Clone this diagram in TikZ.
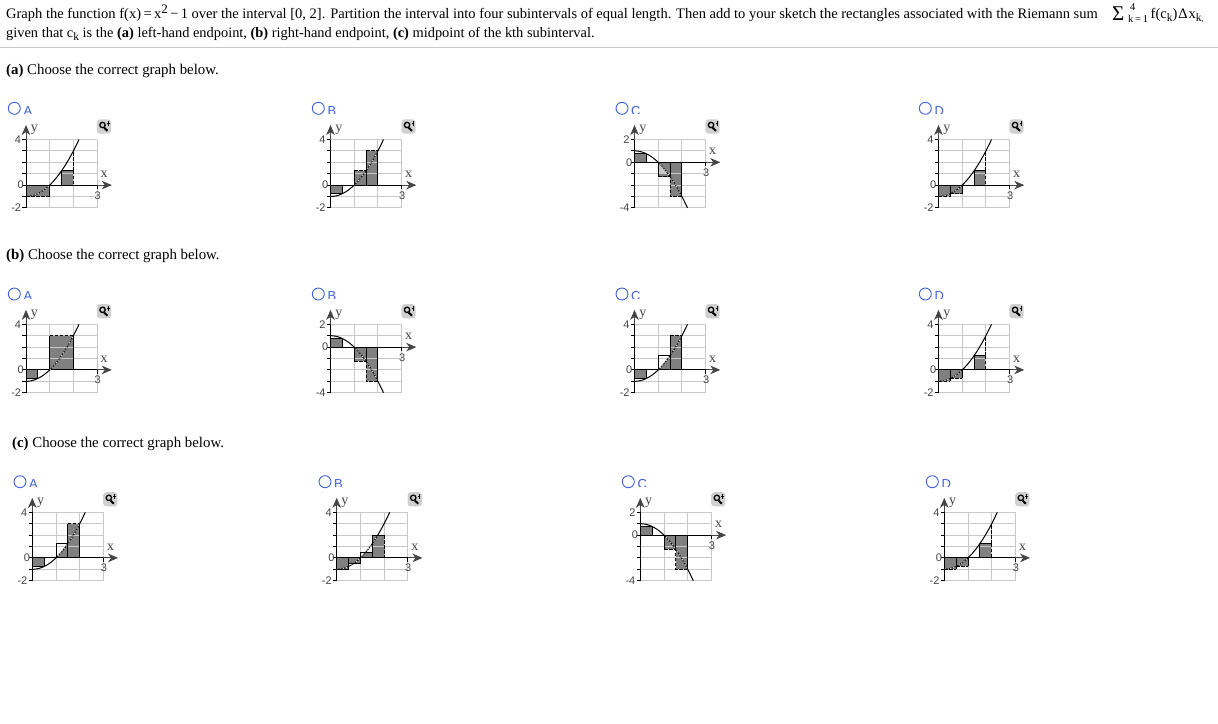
\documentclass[tikz,border=0pt]{standalone}
\usepackage{fontspec}
\setmainfont{Liberation Serif}
\setsansfont{Liberation Sans}
\usetikzlibrary{arrows.meta}
\definecolor{gridc}{HTML}{C8C8C8}
\definecolor{rectc}{HTML}{808080}
\definecolor{axisc}{HTML}{444444}
\definecolor{radioc}{HTML}{3F62D8}
\definecolor{iconc}{HTML}{D0D0D0}
\tikzset{
  txt/.style={inner sep=0pt,anchor=base west,font=\fontsize{14.5}{16}\selectfont},
  ticklab/.style={inner sep=0pt,anchor=east,text=axisc,font=\sffamily\fontsize{11}{11}\selectfont},
  axlab/.style={inner sep=0pt,text=axisc,font=\fontsize{14}{14}\selectfont},
  gridline/.style={gridc,line width=.9pt},
  axisline/.style={black,line width=1pt},
  arrowline/.style={axisc,line width=1pt,-{Stealth[length=10pt,width=8.5pt,inset=3pt]}},
  curveline/.style={black,line width=1pt},
  borderline/.style={black,line width=1pt},
  dashline/.style={black,line width=1pt,dash pattern=on 3.5pt off 1.5pt},
  radio/.style={radioc,line width=.9pt},
  radiolab/.style={inner sep=0pt,anchor=base west,text=radioc,font=\sffamily\fontsize{13}{14}\selectfont},
}
\newcommand{\kk}{\raisebox{-3.5pt}{\fontsize{11.5}{12}\selectfont k}}
% fills
\newcommand{\rf}[3]{\fill[rectc] (#1,0) rectangle (#2,#3);}
\newcommand{\wu}[3]{\fill[white] (#1,0) -- plot[smooth,domain=#1:#2,samples=8] (\x,\x*\x-1) -- (#1,#3) -- cycle;}
% borders
\newcommand{\rkA}[3]{\draw[borderline] (#1,#3) -- (#1,0) (#2,#3) -- (#2,0); \draw[dashline] (#1,#3) -- (#2,#3);}
\newcommand{\rkB}[3]{\draw[borderline] (#1,0) -- (#1,#3) -- (#2,#3); \draw[dashline] (#2,#3) -- (#2,0);}
\newcommand{\rkC}[3]{\draw[borderline] (#2,0) -- (#2,#3); \draw[dashline] (#2,#3) -- (#1,#3) -- (#1,0);}
\newcommand{\rkD}[3]{\draw[borderline] (#1,0) -- (#1,#3) (#2,#3) -- (#2,0); \draw[borderline] (#1,#3) -- (#2,#3);}
\newcommand{\dv}[3]{\draw[dashline] (#1,#2) -- (#1,#3);}
% #1 x0, #2 top px, #3 ymax, #4 sign, #5 fill code, #6 clip path of the rectangles, #7 border code, #8 name
\newcommand{\mygraph}[8]{%
\begin{scope}[shift={(#1,#2+#3*11.4)},x=23.7pt,y=11.4pt]
  \pgfmathsetmacro{\ymn}{#3-6}
  #5
  \foreach \gx in {1,2,3} \draw[gridline] (\gx,\ymn) -- (\gx,#3);
  \foreach \gy in {\ymn,...,#3} \draw[gridline] (0,\gy) -- (3,\gy);
  \foreach \gy in {\ymn,...,#3} \draw[axisline] (-.15,\gy) -- (0,\gy);
  \draw[axisline] (0,\ymn) -- (0,#3);
  \draw[axisline] (0,0) -- (3,0);
  \draw[axisline] (3,0) -- (3,-.35);
  \draw[arrowline] (0,#3) -- (0,#3+1.27);
  \draw[arrowline] (3,0) -- (3.62,0);
  \draw[curveline] plot[smooth,domain=0:2.236,samples=40] (\x,{#4*(\x*\x-1)});
  \begin{scope}
    \clip #6;
    \draw[white,line width=.6pt,dash pattern=on 1.5pt off 1.5pt] plot[smooth,domain=0:2.236,samples=40] (\x,{#4*(\x*\x-1)});
  \end{scope}
  #7
  \node[ticklab] (#8t) at (-.2,#3) {#3};
  \node[ticklab] (#8z) at (-.09,0) {0};
  \node[ticklab] (#8b) at (-.2,\ymn) {-\pgfmathparse{int(abs(\ymn))}\pgfmathresult};
  \node[ticklab,anchor=center] (#8n) at (3.02,-.9) {3};
  \node[axlab] (#8x) at (3.3,.95) {x};
  \node[axlab] (#8y) at (.35,#3+.85) {y};
  % zoom icon
  \fill[iconc,rounded corners=3pt] (3.29-.3,#3+1.14-.62) rectangle (3.29+.3,#3+1.14+.62);
  \draw[black,line width=1.3pt] (3.23,#3+1.27) circle (2.7pt);
  \draw[black,line width=2pt] (3.30,#3+1.02) -- (3.44,#3+.76);
  \draw[black,line width=.5pt] (3.42,#3+1.40) -- (3.53,#3+1.40) (3.475,#3+1.18) -- (3.475,#3+1.62);
\end{scope}}
\newcommand{\myopt}[4]{% cx cy letter name
  \draw[radio] (#1,#2) circle (6pt);
  \begin{scope}
    \clip (#1+8,#2-6) rectangle (#1+20,#2+4.8);
    \node[radiolab] (#4) at (#1+9,#2+6.8) {#3};
  \end{scope}}
% kinds of rectangle sets
\newcommand{\kindL}[3]{% (a)A
  \mygraph{#1}{#2}{4}{1}{\rf{0}{1}{-1}\rf{1.5}{2}{1.25}}{(0,0) rectangle (1,-1) (1.5,0) rectangle (2,1.25)}{\rkA{0}{1}{-1}\draw[borderline] (1,0)--(1,-1);\rkB{1.5}{2}{1.25}\dv{2}{1.25}{3}}{#3}}
\newcommand{\kindR}[3]{% full gray right endpoint
  \mygraph{#1}{#2}{4}{1}{\rf{0}{.5}{-.75}\rf{1}{1.5}{1.25}\rf{1.5}{2}{3}}{(0,0) rectangle (.5,-.75) (1,0) rectangle (2,3) }{\rkD{0}{.5}{-.75}\rkA{1}{1.5}{1.25}\rkA{1.5}{2}{3}}{#3}}
\newcommand{\kindW}[3]{% white wedge right endpoint
  \mygraph{#1}{#2}{4}{1}{\rf{0}{.5}{-.75}\rf{1}{1.5}{1.25}\wu{1}{1.5}{1.25}\rf{1.5}{2}{3}}{(0,0) rectangle (.5,-.75) (1,0) rectangle (2,3)}{\rkD{0}{.5}{-.75}\rkD{1}{1.5}{1.25}\rkA{1.5}{2}{3}}{#3}}
\newcommand{\kindD}[3]{% left endpoint with two negative rectangles
  \mygraph{#1}{#2}{4}{1}{\rf{0}{.5}{-1}\rf{.5}{1}{-.75}\rf{1.5}{2}{1.25}}{(0,0) rectangle (1,-1) (1.5,0) rectangle (2,1.25)}{\rkA{0}{.5}{-1}\rkA{.5}{1}{-.75}\rkB{1.5}{2}{1.25}\dv{2}{1.25}{3}}{#3}}
\newcommand{\kindN}[4]{% negated; #4 extra fill
  \mygraph{#1}{#2}{2}{-1}{\rf{0}{.5}{.75}\rf{1}{1.5}{-1.25}\rf{1.5}{2}{-3}#4}{(0,0) rectangle (.5,.75) (1,0) rectangle (2,-3)}{\rkD{0}{.5}{.75}\rkA{1}{1.5}{-1.25}\rkC{1.5}{2}{-3}}{#3}}
\begin{document}
\begin{tikzpicture}[x=1pt,y=-1pt]
\useasboundingbox (0,0) rectangle (1218,723);
\fill[white] (0,0) rectangle (1218,723);
\node[txt] (line1) at (6,18) {Graph the function f(x)\,=\,x\raisebox{5pt}{\fontsize{13}{13}\selectfont 2}\,−\,1 over the interval [0, 2]. Partition the interval into four subintervals of equal length. Then add to your sketch the rectangles associated with the Riemann sum};
\node[txt,font=\fontsize{21}{21}\selectfont] (sigma) at (1112,20) {Σ};
\node[txt,font=\fontsize{10.5}{11}\selectfont] (sumtop) at (1130,10) {4};
\node[txt,font=\fontsize{10.5}{11}\selectfont] (sumbot) at (1128,22.5) {k\,=\,1};
\node[txt] (sumterm) at (1150.5,18) {f(c\kk)\kern1ptΔ\kern1ptx\kk\raisebox{-3.5pt}{\fontsize{8}{8}\selectfont ,}};
\node[txt,font=\fontsize{14.4}{16}\selectfont] (line2) at (6,37) {given that c\kk{} is the \textbf{(a)} left-hand endpoint, \textbf{(b)} right-hand endpoint, \textbf{(c)} midpoint of the kth subinterval.};
\coordinate (ruleL) at (0,47);
\coordinate (ruleR) at (1218,47);
\draw[gridc,line width=1pt] (ruleL) -- (ruleR);
\node[txt,font=\fontsize{14.85}{16}\selectfont] (qa) at (6,74) {\textbf{(a)} Choose the correct graph below.};
\node[txt,font=\fontsize{14.85}{16}\selectfont] (qb) at (6,259) {\textbf{(b)} Choose the correct graph below.};
\node[txt,font=\fontsize{14.85}{16}\selectfont] (qc) at (12,447) {\textbf{(c)} Choose the correct graph below.};

% row a
\myopt{14.3}{108.3}{A}{oaA}\myopt{318.3}{108.3}{B}{oaB}\myopt{622}{108.3}{C}{oaC}\myopt{925.3}{108.3}{D}{oaD}
\kindL{26}{139.5}{gaA}
\kindR{330.5}{139.5}{gaB}
\kindN{634.5}{139.5}{gaC}{\fill[gridc] (1,0) -- plot[smooth,domain=1:1.4,samples=6] (\x,{-(\x*\x-1)}) -- (1,-.96) -- cycle;}
\kindD{938.5}{139.5}{gaD}
% row b
\myopt{14.3}{294}{A}{obA}\myopt{318.3}{294}{B}{obB}\myopt{622}{294}{C}{obC}\myopt{925.3}{294}{D}{obD}
\mygraph{26}{324.3}{4}{1}{\rf{0}{.5}{-.75}\rf{1}{2}{3}}{(0,0) rectangle (.5,-.75) (1,0) rectangle (2,3)}{\rkD{0}{.5}{-.75}\rkA{1}{2}{3}}{gbA}
\kindN{330.5}{324.3}{gbB}{}
\kindW{634.5}{324.3}{gbC}
\kindD{938.5}{324.3}{gbD}
% row c
\myopt{20}{481.7}{A}{ocA}\myopt{325}{481.7}{B}{ocB}\myopt{628.3}{481.7}{C}{ocC}\myopt{932.3}{481.7}{D}{ocD}
\kindW{32.3}{512.3}{gcA}
\mygraph{336.7}{512.3}{4}{1}{\rf{0}{.5}{-1}\rf{.5}{1}{-.5}\rf{1}{1.5}{.5}\wu{1}{1.225}{.5}\rf{1.5}{2}{2}}{(0,0) rectangle (1,-1) (1,0) rectangle (2,2)}{\rkD{0}{.5}{-1}\rkD{.5}{1}{-.5}\rkD{1}{1.5}{.5}\rkB{1.5}{2}{2}}{gcB}
\kindN{640.3}{512.3}{gcC}{}
\kindD{944.3}{512.3}{gcD}
\end{tikzpicture}
\end{document}
